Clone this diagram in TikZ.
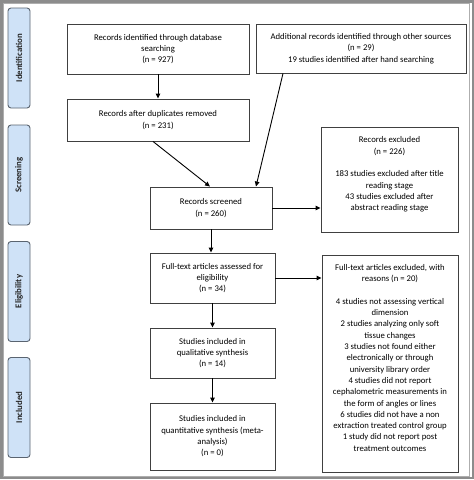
\documentclass[tikz,border=0pt]{standalone}
\usepackage{fontspec}
\setmainfont{Carlito}
\usetikzlibrary{arrows.meta,positioning}
\definecolor{lblfill}{HTML}{CFE2F7}
\definecolor{lbldraw}{HTML}{5A6470}
\definecolor{boxdraw}{HTML}{404040}
\definecolor{frame}{HTML}{8C8C8C}
\begin{document}
\begin{tikzpicture}[x=1pt,y=-1pt,
  box/.style={draw=boxdraw,line width=0.9pt,fill=white,align=center,inner sep=1pt,
    font=\fontsize{8.7}{11.3}\selectfont},
  lbl/.style={draw=lbldraw,line width=0.9pt,fill=lblfill,rounded corners=3pt,rotate=90,
    minimum width=100pt,minimum height=22pt,inner sep=0pt,
    font=\fontsize{8.8}{10}\selectfont\bfseries,text=black!85},
  arr/.style={-{Triangle[length=5pt,width=4.5pt]},line width=0.9pt,black}]
\useasboundingbox (0,0) rectangle (474,480);
\fill[white] (0,0) rectangle (474,480);
\draw[frame,line width=2.5pt] (1.25,1.25) rectangle (472.75,478);
\draw[frame!70,line width=0.5pt] (3,3) rectangle (469,476);
% phase labels
\node[lbl] (lid) at (19,58) {Identification};
\node[lbl] (lsc) at (19,175) {Screening};
\node[lbl] (lel) at (19,291.5) {Eligibility};
\node[lbl] (lin) at (19,407.5) {Included};
% boxes
\node[box,minimum width=182pt,minimum height=50pt] (b1) at (158,49)
  {Records identified through database\\searching\\(n = 927)};
\node[box,minimum width=210pt,minimum height=49pt] (b2) at (361,48.5)
  {Additional records identified through other sources\\(n = 29)\\19 studies identified after hand searching};
\node[box,minimum width=182pt,minimum height=42pt] (b3) at (158,120)
  {Records after duplicates removed\\(n = 231)};
\node[box,minimum width=137pt,minimum height=105pt] (ex1) at (389.5,179.5)
  {Records excluded\\(n = 226)\\[11.3pt]183 studies excluded after title\\reading stage\\43 studies excluded after\\abstract reading stage\\\mbox{}};
\node[box,minimum width=122pt,minimum height=42pt] (scr) at (211,208)
  {Records screened\\(n = 260)};
\node[box,minimum width=125pt,minimum height=50pt] (ft) at (212.5,278)
  {Full-text articles assessed for\\eligibility\\(n = 34)};
\node[box,minimum width=136pt,minimum height=217pt] (ex2) at (390,363.5)
  {Full-text articles excluded, with\\reasons (n = 20)\\[11.3pt]4 studies not assessing vertical\\dimension\\2 studies analyzing only soft\\tissue changes\\3 studies not found either\\electronically or through\\university library order\\4 studies did not report\\cephalometric measurements in\\the form of angles or lines\\6 studies did not have a non\\extraction treated control group\\1 study did not report post\\treatment outcomes\\\mbox{}};
\node[box,minimum width=125pt,minimum height=50pt] (qual) at (212.5,353)
  {Studies included in\\qualitative synthesis\\(n = 14)};
\node[box,minimum width=125pt,minimum height=67pt] (quant) at (212.5,436.5)
  {Studies included in\\quantitative synthesis (meta-\\analysis)\\(n = 0)};
% connectors
\draw[arr] (b1.south) -- (b3.north);
\draw[arr] ([xshift=-5pt]b3.south) -- ([xshift=-1pt]scr.north);
\draw[arr] ([xshift=-78pt]b2.south) -- ([xshift=45pt]scr.north);
\draw[arr] (scr.east) -- (scr.east -| ex1.west);
\draw[arr] (scr.south) -- (scr.south |- ft.north);
\draw[arr] (ft.east) -- (ft.east -| ex2.west);
\draw[arr] (ft.south) -- (qual.north);
\draw[arr] (qual.south) -- (quant.north);
\end{tikzpicture}
\end{document}
